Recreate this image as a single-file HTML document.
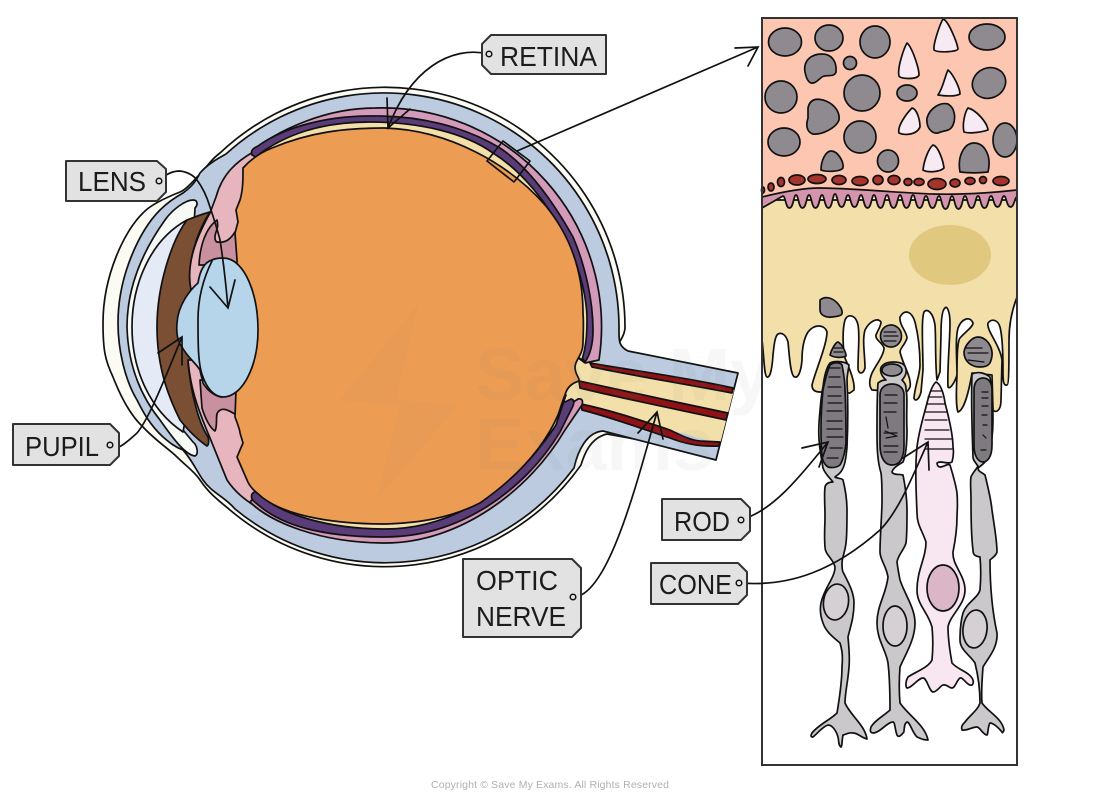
<!DOCTYPE html>
<html><head><meta charset="utf-8"><style>
html,body{margin:0;padding:0;background:#fff}
svg{display:block}
text.l{font-family:"Liberation Sans",sans-serif;font-size:28px;fill:#1c1c1c}
.k{stroke:#111;stroke-width:1.7;stroke-linejoin:round;stroke-linecap:round}
.a{fill:none;stroke:#111;stroke-width:1.7;stroke-linejoin:miter;stroke-linecap:round}
.t{fill:#e2e2e2;stroke:#333;stroke-width:2;stroke-linejoin:round}
.h{fill:#e2e2e2;stroke:#111;stroke-width:1.5}
.g{fill:#8e8a8f}.w{fill:#f8eaf2}.r{fill:#a5352c}.c{fill:#cbc8cc}.n{fill:#d4d0d4}
</style></head><body>
<svg width="1100" height="804" viewBox="0 0 1100 804" xmlns="http://www.w3.org/2000/svg">
<rect width="1100" height="804" fill="#fff"/>
<!-- eye -->
<g class="k">
<path fill="#fbfbf3" d="M619 343C622 338 625 333 625 327A240 240 0 0 0 220 153C210 160 205 170 197 177C190 185 185 190 180 192C165 198 150 205 143 213C125 230 103 275 103 323C103 350 105 360 113 377C120 395 130 415 143 427C155 440 170 450 177 457C185 465 195 472 200 480C210 495 222 503 230 510A240 240 0 0 0 581 465C584 455 590 438 607 434L640 440Z"/>
<path fill="#bccbdf" d="M738 373L716 460L603 431C587 432 578 450 574 468A236 236 0 0 1 235 509C225 497 212 493 203 480C196 470 192 460 183 450C175 447 170 443 163 437C150 425 143 412 137 400C125 380 118 350 118 323C118 275 140 230 160 210C167 203 174 198 183 193C190 188 195 183 200 173C207 165 215 160 226 154A235 235 0 0 1 619 327C619 340 618 346 628 351Z"/>
<path fill="#f7f9f5" d="M195 208C198 205 198 200 193 200C185 200 172 210 165 220C140 255 127 290 127 327C128 365 140 395 160 420C172 437 185 455 195 456C199 454 197 445 193 442L183 430L190 300Z"/>
<path fill="#e4ebf7" d="M187 220C150 240 132 285 132 327C132 370 150 410 183 432L200 340Z"/>
<path fill="#7a4f33" d="M210 212C202 214 195 217 187 220C172 240 157 285 157 327C157 370 170 400 180 420C188 430 198 440 207 446C209 445 209 440 208 437C200 425 192 400 188 363L230 340L190 283C188 265 195 235 210 212Z"/>
<path fill="#e7b5bd" d="M255 151C235 162 222 175 216 197L210 213C195 240 186 265 191 290L260 290L270 160Z"/>
<path fill="#e7b5bd" d="M188 360C190 385 196 405 210 438L227 480C235 492 245 500 258 508L280 450L260 360Z"/>
<path fill="#c9919f" d="M217 220C206 228 200 245 199 265L245 265L245 225L235 232C230 240 225 243 219 242C215 243 214 238 216 232C218 228 218 224 217 220Z"/>
<path fill="#c9919f" d="M200 380L202 408C205 418 210 428 215 431C218 425 215 415 218 412C222 407 228 410 233 413L245 420L245 380Z"/>
<!-- nerve -->
<path fill="#f2dfa9" style="stroke:none" d="M572 358L734 390L720 444L582 405L560 405Z"/>
<path fill="#8f1216" d="M590 363C630 370 690 378 733 388L732 393C690 385 630 375 592 367Z"/>
<path fill="#8f1216" d="M579 381C620 390 680 403 728 413L726 420C680 410 620 398 580 388Z"/>
<path fill="#8f1216" d="M581 404C610 410 640 420 670 430C680 435 690 440 700 441L720 442L719 446C700 447 685 444 670 438C640 428 610 417 582 410Z"/>
<!-- upper coats -->
<path fill="#d39bb9" d="M256 148C280 130 325 108 375 108A219 219 0 0 1 599 360L585 363L500 300L300 200Z"/>
<path fill="#5a3d78" d="M252 155C250 150 254 148 258 146C280 130 320 116 370 116C420 115 465 127 500 148C530 168 555 205 573 237C585 265 593 300 593 330C593 345 590 355 585 362L540 300L300 180Z"/>
<path fill="#f2dfa9" d="M258 155C285 135 320 122 370 122C420 122 465 133 493 153C525 173 547 205 562 230C578 262 587 295 587 320C587 340 585 350 582 360L500 300L300 200Z"/>
<!-- lower coats -->
<path fill="#d39bb9" d="M250 502C270 522 320 543 385 543C460 543 530 490 565 430L582 405Q584 398 578 399L572 403L500 400L300 450Z"/>
<path fill="#5a3d78" d="M252 494Q250 499 256 503C280 525 320 537 385 537C460 537 525 490 560 432L572 408Q576 400 571 399L565 402L500 400L300 450Z"/>
<path fill="#f2dfa9" d="M258 493C280 515 330 529 385 529C460 529 520 480 556 425L566 395L500 400L300 450Z"/>
<!-- vitreous -->
<path fill="#ec9c53" d="M243 168C252 158 262 152 272 148C310 132 345 128 385 128C450 130 510 165 545 205C570 235 583 270 583 313C584 325 583 335 583 343C583 355 575 360 575 367C575 375 580 378 579 381C572 383 567 387 565 395C562 402 560 410 558 415C545 445 520 475 480 503C450 518 420 523 385 524C340 524 290 518 263 498C257 493 250 488 247 480L237 457L243 443L240 433C240 430 238 425 235 417L236 390L237 260L235 233L238 222L236 210L240 200C243 190 243 180 243 168Z"/>
<!-- lens -->
<path fill="#b6d5ea" d="M223 258C245 258 258 295 258 330C258 365 243 397 223 397C217 397 208 392 203 383C203 380 201 377 200 370C195 362 188 358 182 347C178 342 176 335 177 323C178 305 190 290 198 283C200 270 205 262 212 260C216 258 220 258 223 258Z"/>
<path fill="none" d="M212 261C205 275 198 295 198 320C198 345 198 365 203 377C207 388 213 395 221 397"/>
<!-- sample box -->
<path fill="none" d="M503 141L530 161L514 182L487 161Z"/>
</g>
<!-- watermark -->
<path d="M418 305L340 400L400 405L377 500L458 405L396 400Z" fill="#a08070" opacity=".05"/>
<text x="475" y="400" font-family="Liberation Sans,sans-serif" font-weight="700" font-size="74" fill="#888" opacity=".06">Save My</text>
<text x="475" y="470" font-family="Liberation Sans,sans-serif" font-weight="700" font-size="74" fill="#888" opacity=".06">Exams</text>

<!-- panel -->
<rect x="762" y="18" width="255" height="747" fill="#fff"/>
<rect x="762" y="18" width="255" height="180" fill="#fdc6b1"/>
<path class="k" fill="#f2dfa9" d="M762 200L1017 200L1017 297C1012 310 1009 325 1009 340C1009 360 1009 385 1007 385C1003 386 1003 380 1003 370C1003 350 1002 335 1000 327C998 320 992 318 988 323C986 330 1000 345 1002 360L1001 400C1001 412 995 413 993 410L992 375L972 373C970 385 965 410 958 412C955 405 957 380 957 372C957 350 958 340 960 338C965 332 973 327 973 323C970 316 962 318 958 328C955 340 957 360 957 375C955 382 950 390 948 387C947 370 950 340 950 323C950 312 947 305 945 308C942 310 941 320 941 335L940 372L937 380C935 365 936 335 935 325C933 312 927 308 924 312C921 320 923 350 923 370L921 392C919 400 915 402 914 398C915 385 920 375 920 365C920 345 917 330 915 322C912 312 905 308 900 317C899 325 907 332 907 338C905 345 900 348 900 352C903 365 912 378 910 387C907 393 905 393 903 392L872 390C868 385 870 378 872 373C876 365 884 355 884 348C882 342 875 340 876 335C878 330 881 326 881 322C877 317 869 322 865 330C862 340 865 355 865 368C863 375 858 374 858 368C858 350 860 335 858 325C856 315 848 313 845 320C842 330 843 350 845 358C850 370 855 382 854 390L850 393L820 392C815 392 812 390 812 385C815 372 827 345 827 332C825 325 815 323 808 332C803 340 802 350 802 360C801 372 798 378 795 377C790 377 789 350 788 342C786 335 782 332 778 334C775 336 774 345 773 355C772 370 770 378 767 377C764 376 764 355 762 340Z"/>
<path class="k" fill="#d495ac" d="M762 197C790 190 810 188 820 188C850 188 900 193 933 194C965 195 1000 192 1017 190L1017 197c-2.500 0-2.500 10-6.500 10c-4 0-4-11-6.500-11c-2.500 0-2.500 11-6.500 11c-4 0-4-11-6.500-11c-2.500 0-2.500 12-6.500 12c-4 0-4-12-6.500-12c-2.500 0-2.500 12-6.500 12c-4 0-4-12-6.500-12c-2.500 0-2.500 13-6.500 13c-4 0-4-13-6.500-13c-2.500 0-2.500 13-6.500 13c-4 0-4-13-6.500-13c-2.500 0-2.500 12-6.500 12c-4 0-4-12-6.500-12c-2.500 0-2.500 12-6.500 12c-4 0-4-13-6.500-13c-2.500 0-2.500 13-6.500 13c-4 0-4-13-6.500-13c-2.500 0-2.500 13-6.500 13c-4 0-4-13-6.500-13c-2.500 0-2.500 13-6.500 13c-4 0-4-13-6.500-13c-2.500 0-2.500 13-6.500 13c-4 0-4-13-6.500-13c-2.500 0-2.500 12-6.500 12c-4 0-4-12-6.500-12c-2.500 0-2.500 12-6.500 12c-4 0-4-13-6.500-13c-2.500 0-2.500 14-6.500 14c-4 0-4-13-6.500-13c-2.500 0-2.500 13-6.500 13c-4 0-4-13-6.500-13c-2.500 0-2.500 13-6.500 13c-4 0-4-13-6.500-13c-2.500 0-2.500 13-6.500 13c-4 0-4-12-6.500-12L762 208Z"/>
<ellipse cx="950" cy="255" rx="41" ry="30" fill="#e0c97f"/>
<!-- cells top -->
<g class="k">
<g class="g">
<ellipse cx="785" cy="42" rx="16.500" ry="14"/><ellipse cx="829" cy="38" rx="14" ry="13"/><ellipse cx="875" cy="42" rx="15" ry="16"/><ellipse cx="987" cy="37" rx="18" ry="13"/>
<path d="M805 72C803 60 812 54 822 54C832 54 837 62 836 72C834 78 826 74 822 77C818 80 815 84 811 83C808 82 806 77 805 72Z"/>
<circle cx="850" cy="63" r="6.500"/><ellipse cx="781" cy="97" rx="16" ry="16"/><ellipse cx="862" cy="93" rx="18" ry="18"/><ellipse cx="907" cy="93" rx="10" ry="8"/>
<ellipse cx="989" cy="83" rx="17" ry="15" transform="rotate(-25 989 83)"/>
<path d="M808 108C810 98 818 98 826 101C835 105 840 112 839 120C836 128 822 135 813 134C806 132 806 124 808 118Z"/>
<path d="M927 118C930 108 940 102 948 104C955 108 956 118 953 125C950 132 944 130 938 133C932 134 926 128 927 118Z"/>
<ellipse cx="784" cy="142" rx="16" ry="14"/><ellipse cx="860" cy="137" rx="16" ry="16"/><ellipse cx="1005" cy="140" rx="12" ry="17"/>
<path d="M821 170C821 160 826 151 831 151C838 151 844 162 843 168C840 172 826 172 821 170Z"/>
<ellipse cx="888" cy="161" rx="10.500" ry="11"/>
<path d="M960 172C957 155 965 143 974 143C984 143 992 155 988 172C980 173 968 173 960 172Z"/>
</g>
<g class="w">
<path d="M943 19C948 20 957 42 958 49C957 52 938 53 934 50C933 44 940 24 943 19Z"/>
<path d="M907 43C912 47 919 68 919 75C917 80 900 79 899 76C897 68 904 48 907 43Z"/>
<path d="M948 70C953 74 960 88 960 94C955 97 945 96 938 95C943 88 945 76 948 70Z"/>
<path d="M912 108C917 109 920 120 920 127C916 136 903 135 899 133C897 126 907 113 912 108Z"/>
<path d="M968 108C976 110 987 122 988 130C982 132 970 134 964 132C962 124 965 112 968 108Z"/>
<path d="M933 145C938 146 943 160 944 168C940 172 928 173 923 170C924 160 929 148 933 145Z"/>
</g>
<g class="r">
<ellipse cx="797" cy="180" rx="8" ry="5"/><ellipse cx="817" cy="179" rx="9" ry="4.500"/><ellipse cx="839" cy="180" rx="7" ry="4.500"/><ellipse cx="860" cy="181" rx="8" ry="4.500"/><ellipse cx="878" cy="180" rx="5" ry="4.500"/><ellipse cx="894" cy="180" rx="6" ry="4.500"/><ellipse cx="908" cy="182" rx="4" ry="3.500"/><ellipse cx="919" cy="182" rx="5" ry="3.500"/><ellipse cx="937" cy="184" rx="9" ry="5.500"/><ellipse cx="955" cy="183" rx="5" ry="4"/><ellipse cx="970" cy="181" rx="5" ry="3.500"/><ellipse cx="983" cy="180" rx="3.500" ry="3.500"/><ellipse cx="1001" cy="181" rx="8" ry="4.500"/><ellipse cx="781" cy="182" rx="3.500" ry="4.500"/><ellipse cx="771" cy="187" rx="3" ry="4"/><ellipse cx="763" cy="190" rx="1.500" ry="3"/>
</g>
<path class="g" d="M820 300C826 295 835 298 841 308C844 315 842 316 832 317C826 318 820 315 820 310Z"/>
<path class="g" d="M830 355C832 348 836 342 838 342C842 344 846 352 846 356C842 358 834 358 830 355Z"/>
<ellipse class="g" cx="891" cy="336" rx="10.500" ry="11"/>
<path class="g" d="M964 352C965 345 972 337 978 337C986 337 993 346 992 356C991 362 990 367 980 367C972 367 964 362 964 352Z"/>

<!-- rod 1 -->
<path class="c" d="M830 363C836 360 846 362 849 365C848 372 847 376 847 380C848 400 848 425 847 447C846 458 845 465 842 470C840 474 836 476 835 477C838 479 842 478 843 480C846 492 847 500 847 510C847 525 847 535 846 543C845 552 842 558 842 563C842 567 842 570 843 572C848 582 854 592 854 603C854 618 850 628 848 637C849 648 850 658 849 667C848 682 845 692 845 703C850 715 865 725 867 739C860 737 858 733 853 733C848 732 845 735 843 735C842 740 842 747 841 747C838 745 839 740 838 737C836 730 832 725 828 725C822 727 818 733 813 737C810 737 811 735 812 733C818 725 830 720 837 713C840 695 842 680 842 667C843 655 842 650 840 643C833 637 826 632 823 623C820 615 820 608 821 603C824 588 835 578 835 567C833 558 825 555 825 547C824 535 825 525 825 517C825 505 824 495 825 487C826 483 830 482 833 482C830 478 825 474 823 468C820 450 818 440 819 423C820 410 821 395 823 387C824 378 826 368 830 363Z"/>
<path style="fill:#7e7a80" d="M830 365C834 362 840 362 842 365C844 375 845 385 845 390C846 410 846 430 846 443C845 452 843 460 840 465C836 468 832 468 828 467C825 465 823 462 822 457C821 447 821 437 821 427C821 412 822 400 823 390C825 380 827 372 830 365Z"/>
<ellipse class="n" cx="836" cy="602" rx="12.500" ry="18" transform="rotate(8 836 602)"/>
<!-- rod 2 -->
<path class="c" d="M878 383C882 380 884 380 886 380C880 375 879 368 883 365C888 361 900 361 904 365C908 370 906 376 902 380C906 384 906 386 906 390C908 395 906 410 907 430C907 445 906 455 903 462C898 465 893 468 892 472C893 475 898 474 903 475C906 490 907 500 907 510C907 525 907 535 906 543C904 550 898 555 897 562C898 570 899 575 900 580C905 595 915 608 915 623C915 640 905 655 900 667C899 680 899 692 900 703C908 715 925 725 928 740C922 740 920 738 917 737C912 732 910 722 907 722C903 724 905 733 903 733C900 737 898 737 897 735C895 730 895 722 893 722C887 722 880 733 873 733C870 733 870 730 871 727C875 720 885 715 890 710C890 695 890 680 888 663C886 650 877 640 877 623C877 605 886 595 888 577C886 565 880 560 880 552C880 535 882 515 882 500C882 490 882 480 881 473C877 460 877 445 877 430C877 415 877 395 878 383Z"/>
<ellipse fill="#8e8a8f" cx="892" cy="370" rx="10" ry="6"/>
<path fill="#7e7a80" d="M880 395C880 388 885 384 892 384C899 384 904 388 904 395L904 445C904 458 900 465 892 465C885 465 880 458 880 445Z"/>
<ellipse class="n" cx="895" cy="626" rx="12" ry="20"/>
<!-- cone -->
<path fill="#f8e6f0" d="M936 382C941 384 944 395 945 403C949 418 953 435 953 447C954 452 953 458 952 462C948 465 941 460 937 463C937 466 939 467 940 467C944 467 948 463 950 465C953 475 956 485 957 493C958 505 957 512 957 517C957 530 955 542 953 552C952 565 965 575 965 590C965 605 950 615 948 627C948 640 950 652 952 663C958 670 970 672 973 680C974 684 972 686 970 685C966 684 963 677 960 678C957 680 955 688 952 688C949 688 947 684 943 685C940 686 937 692 933 692C929 691 927 678 923 678C918 678 912 688 907 688C905 686 906 680 908 677C915 672 928 668 932 660C933 650 933 638 932 627C928 612 917 605 917 590C917 570 926 558 926 542C922 530 917 525 917 513C916 490 915 465 917 447C919 430 924 415 927 403C929 395 932 385 936 382Z"/>
<ellipse fill="#dbb6c7" cx="943" cy="588" rx="16" ry="23"/>
<!-- rod 3 -->
<path class="c" d="M972 374C978 371 985 373 990 377C992 390 993 405 993 420C993 435 991 447 988 457C986 462 982 465 978 468C978 472 982 472 985 475C988 487 991 500 992 510C994 525 997 540 997 552C996 556 992 558 990 560C990 585 992 610 997 633C998 648 988 658 983 667C982 680 981 692 982 703C988 712 1002 718 1004 730C1003 733 1002 733 1002 732C998 727 993 723 990 723C988 725 988 735 987 735C983 735 980 727 977 727C972 727 967 731 962 730C961 727 962 725 965 722C970 715 978 710 980 703C980 690 978 675 975 663C970 655 960 650 960 640C960 628 961 620 963 613C967 602 978 598 980 590C981 578 981 568 980 557C975 556 973 555 973 550C971 535 971 515 971 500C971 490 970 482 971 477C973 472 976 470 978 466C975 462 973 460 973 457C972 430 971 400 972 374Z"/>
<path fill="#7e7a80" d="M974 390C974 382 978 378 983 378C988 378 992 382 992 390L992 445C992 456 988 462 983 462C978 462 974 456 974 445Z"/>
<ellipse class="n" cx="975" cy="629" rx="12" ry="19" transform="rotate(6 975 629)"/>
<!-- dashes -->
<path fill="none" style="stroke-width:1.2" d="M830 368H840M829 377H840M828 387H841M828 396H841M828 403H842M827 411H842M827 421H842M827 429H842M827 437H843M830 448H842M827 458H838M885 395H897M884 403H897M884 412H896M886 417L888 428M884 433H897M884 446H898M884 452H897M982 392H988M982 398H988M982 406H988M982 415H987M983 425H987M983 435L986 438M981 450H986M966 348H982M968 353H988M968 360L984 362M833 348H843M834 352H843M884 332H896M884 336H898M884 341H896M931 391H941M928 397H942M927 404H945M925 412H947M925 420H947M925 430H949M925 439H952M925 449H952"/>
<path fill="none" style="stroke-width:1.2" d="M885 431L897 436L886 438"/>
</g>
<rect x="762" y="18" width="255" height="747" fill="none" stroke="#333" stroke-width="2"/>

<!-- arrows -->
<g class="a">
<path d="M160 180C166 174 173 171 180 171C188 172 193 175 197 180C203 188 207 197 210 207C215 222 218 232 220 240C224 265 226 285 228 308M210 287L228 308L235 280"/>
<path d="M111 445C115 452 124 445 137 433C150 418 168 370 182 337M158 353L182 337L182 365"/>
<path d="M489 54C450 45 410 70 388 128M387 98L388 128L410 109"/>
<path d="M517 151L758 47M735 48L758 47L748 66"/>
<path d="M574 597C610 595 640 470 657 412M638 433L657 412L663 439"/>
<path d="M743 519C775 510 805 470 828 442M802 448L828 442L819 467"/>
<path d="M741 583C790 587 835 570 880 530C900 510 915 470 928 442M903 458L928 442L929 470"/>
</g>

<!-- tags -->
<path class="t" d="M66 161H157L166 169V192L157 201H66Z"/>
<path class="t" d="M491 35H606V74H491L482 65V44Z"/>
<path class="t" d="M13 424H110L119 433V456L110 465H13Z"/>
<path class="t" d="M662 499H741L750 508V531L741 540H662Z"/>
<path class="t" d="M651 563H738L747 572V595L738 604H651Z"/>
<path class="t" d="M463 559H572L581 568V628L572 637H463Z"/>
<circle class="h" cx="159" cy="181" r="2.800"/><circle class="h" cx="489" cy="54" r="2.800"/><circle class="h" cx="110" cy="445" r="2.800"/><circle class="h" cx="741" cy="520" r="2.800"/><circle class="h" cx="739" cy="583" r="2.800"/><circle class="h" cx="573" cy="597" r="2.800"/>
<text class="l" x="78" y="191" textLength="68" lengthAdjust="spacingAndGlyphs">LENS</text>
<text class="l" x="500" y="66" textLength="97" lengthAdjust="spacingAndGlyphs">RETINA</text>
<text class="l" x="25" y="456" textLength="74" lengthAdjust="spacingAndGlyphs">PUPIL</text>
<text class="l" x="674" y="531" textLength="56" lengthAdjust="spacingAndGlyphs">ROD</text>
<text class="l" x="659" y="594" textLength="73" lengthAdjust="spacingAndGlyphs">CONE</text>
<text class="l" x="476" y="590" textLength="82" lengthAdjust="spacingAndGlyphs">OPTIC</text>
<text class="l" x="476" y="626" textLength="90" lengthAdjust="spacingAndGlyphs">NERVE</text>
<text x="550" y="788" text-anchor="middle" font-family="Liberation Sans,sans-serif" font-size="10.5" fill="#b0b0b0" textLength="238">Copyright © Save My Exams. All Rights Reserved</text>
</svg>
</body></html>
